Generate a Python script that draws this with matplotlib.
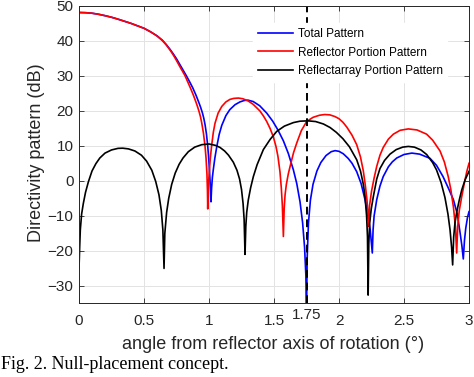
import matplotlib
matplotlib.use("Agg")
import matplotlib.pyplot as plt

# angle (deg) / directivity (dB)
total_x = [0.0, 0.05, 0.1, 0.15, 0.2, 0.25, 0.3, 0.35, 0.4, 0.45, 0.5, 0.55, 0.6, 0.641,
           0.67, 0.7, 0.725, 0.75, 0.775, 0.8, 0.825, 0.85, 0.875, 0.9, 0.92, 0.935,
           0.949, 0.96, 0.97, 0.98, 0.99, 0.998, 1.005, 1.01, 1.015,
           1.02, 1.026, 1.033, 1.045, 1.059, 1.078, 1.098, 1.13, 1.16, 1.2, 1.238, 1.27,
           1.3, 1.34, 1.39, 1.444, 1.49, 1.53, 1.572, 1.61, 1.649, 1.675, 1.7, 1.72,
           1.735, 1.745, 1.75,
           1.755, 1.765, 1.78, 1.8, 1.83, 1.86, 1.9, 1.94, 1.97, 2.0, 2.033, 2.07, 2.1,
           2.136, 2.17, 2.2, 2.22, 2.24, 2.256,
           2.262, 2.27, 2.29, 2.315, 2.34, 2.38, 2.41, 2.444, 2.5, 2.56, 2.62, 2.7, 2.75,
           2.8, 2.84, 2.88, 2.91, 2.93, 2.945, 2.956, 2.965, 2.975, 2.988, 3.0]
total_y = [48.0, 47.95, 47.8, 47.5, 47.1, 46.65, 46.1, 45.5, 44.9, 44.2, 43.5, 42.5, 41.35, 40.1,
           38.9, 37.5, 36.2, 34.8, 33.2, 31.6, 30.0, 28.3, 26.5, 24.4, 22.5, 21.0,
           19.4, 17.8, 15.9, 13.4, 10.0, 6.2, 2.0, -1.5, -6.0,
           -2.0, 1.0, 3.2, 6.5, 9.6, 13.2, 15.8, 18.6, 20.3, 21.7, 22.5, 22.9,
           23.0, 22.6, 21.4, 19.3, 17.0, 14.5, 11.4, 7.8, 3.1, -0.8, -6.0, -12.0,
           -19.0, -27.0, -38.0,
           -22.0, -12.0, -5.5, -1.0, 2.8, 5.2, 7.2, 8.3, 8.6, 8.4, 7.7, 6.4, 5.0,
           2.6, -0.8, -5.4, -9.5, -14.0, -20.6,
           -14.0, -10.0, -5.4, -1.5, 1.2, 4.0, 5.4, 6.5, 7.5, 7.9, 7.6, 6.4, 4.4,
           1.2, -2.0, -5.4, -9.5, -14.5, -18.5, -22.3, -17.0, -13.5, -10.5, -8.8]

reflector_x = [0.0, 0.05, 0.1, 0.15, 0.2, 0.25, 0.3, 0.35, 0.4, 0.45, 0.5, 0.55, 0.6, 0.641,
               0.67, 0.7, 0.725, 0.75, 0.775, 0.8, 0.815, 0.84, 0.86, 0.88, 0.9, 0.912,
               0.923, 0.934, 0.944, 0.957, 0.969, 0.977, 0.984, 0.988, 0.99,
               0.993, 1.0, 1.01, 1.02, 1.033, 1.046, 1.07, 1.098, 1.13, 1.16, 1.19, 1.226,
               1.26, 1.3, 1.34, 1.392, 1.42, 1.444, 1.47, 1.495, 1.515, 1.53, 1.546, 1.556,
               1.564, 1.572,
               1.578, 1.585, 1.595, 1.61, 1.623, 1.65, 1.675, 1.71, 1.751, 1.8, 1.85, 1.89,
               1.93, 1.97, 2.0, 2.03, 2.06, 2.1, 2.136, 2.165, 2.187, 2.203, 2.215, 2.222,
               2.228,
               2.235, 2.25, 2.27, 2.29, 2.315, 2.34, 2.38, 2.418, 2.47, 2.533, 2.6, 2.674,
               2.72, 2.777, 2.81, 2.84, 2.86, 2.88, 2.895, 2.905,
               2.913, 2.925, 2.944, 2.965, 2.982, 3.0]
reflector_y = [48.0, 47.95, 47.8, 47.5, 47.1, 46.65, 46.1, 45.5, 44.9, 44.2, 43.5, 42.5, 41.3, 40.0,
               38.8, 37.3, 35.9, 34.3, 32.6, 31.0, 30.0, 27.9, 26.2, 24.4, 22.4, 21.1,
               19.8, 18.3, 16.5, 13.6, 10.0, 6.5, 2.0, -3.0, -8.0,
               -3.0, 1.5, 6.5, 10.0, 13.8, 16.4, 19.3, 21.2, 22.5, 23.2, 23.5, 23.6,
               23.4, 22.8, 21.8, 19.9, 18.4, 16.9, 14.9, 12.5, 9.8, 7.0, 2.5, -2.0,
               -7.0, -15.9,
               -8.0, -4.0, -1.0, 2.0, 4.0, 8.0, 10.8, 14.3, 16.9, 18.1, 18.7, 18.9,
               18.8, 18.3, 17.7, 16.7, 15.3, 13.0, 10.3, 6.8, 2.8, -1.5, -5.5, -9.0,
               -13.0,
               -7.0, -3.0, 0.8, 4.1, 7.3, 9.5, 11.9, 13.3, 14.4, 14.8, 14.5, 13.3,
               11.6, 8.5, 5.4, 1.2, -2.5, -7.5, -13.0, -20.6,
               -13.0, -8.5, -4.5, -0.5, 2.5, 5.0]

reflectarray_x = [0.0, 0.005, 0.01, 0.02, 0.033, 0.05, 0.072, 0.1, 0.13, 0.16, 0.2, 0.25,
                  0.3, 0.336, 0.38, 0.43, 0.48, 0.52, 0.56, 0.59, 0.615, 0.633, 0.645, 0.654,
                  0.66, 0.674, 0.69, 0.713, 0.74, 0.77, 0.8, 0.841, 0.89, 0.944, 1.0, 1.05,
                  1.085, 1.12, 1.15, 1.187, 1.215, 1.235, 1.25, 1.262, 1.27, 1.277,
                  1.283, 1.29, 1.302, 1.32, 1.341, 1.37, 1.418, 1.47, 1.521, 1.58, 1.649,
                  1.7, 1.76, 1.82, 1.88, 1.931, 1.98, 2.03, 2.08, 2.136, 2.165, 2.187, 2.2,
                  2.212, 2.219, 2.224,
                  2.229, 2.236, 2.248, 2.264, 2.29, 2.315, 2.35, 2.392, 2.44, 2.49, 2.533,
                  2.58, 2.63, 2.674, 2.72, 2.75, 2.785, 2.815, 2.838, 2.854, 2.866, 2.874,
                  2.882, 2.892, 2.905, 2.925, 2.944, 2.97, 3.0]
reflectarray_y = [-25.0, -19.0, -14.0, -9.5, -6.5, -3.3, -0.3, 2.8, 4.9, 6.5, 7.9, 8.8,
                  9.25, 9.3, 9.1, 8.5, 7.3, 5.6, 3.0, -0.2, -4.0, -8.5, -14.0, -25.0,
                  -15.0, -9.0, -5.0, -1.0, 2.2, 4.7, 6.5, 8.3, 9.6, 10.3, 10.5, 10.1,
                  9.5, 8.5, 7.3, 5.3, 3.0, 0.5, -2.5, -6.5, -11.0, -21.0,
                  -13.0, -9.0, -5.5, -2.0, 1.2, 4.6, 8.9, 11.8, 14.1, 15.6, 16.6,
                  17.0, 17.1, 16.9, 16.2, 15.2, 13.8, 12.0, 9.7, 6.0, 2.8, -1.0, -4.5,
                  -10.0, -16.0, -32.6,
                  -18.0, -12.0, -8.0, -4.5, 0.5, 3.5, 5.8, 7.6, 8.9, 9.6, 9.8,
                  9.6, 8.8, 7.5, 5.2, 3.1, -0.5, -4.8, -9.5, -14.0, -19.0, -24.0,
                  -16.0, -12.0, -9.0, -5.5, -2.6, 0.3, 2.7]

x_ticks = [0, 0.5, 1, 1.5, 2, 2.5, 3]
x_tick_labels = ["0", "0.5", "1", "1.5", "2", "2.5", "3"]
y_ticks = [-30, -20, -10, 0, 10, 20, 30, 40, 50]
null_angle = 1.75

plt.rcParams["font.family"] = ["Liberation Sans", "DejaVu Sans"]

fig = plt.figure(figsize=(4.74, 3.77), dpi=100)
ax = fig.add_axes([0.1667, 0.195, 0.8228, 0.7904])

ax.plot(total_x, total_y, color="#0000ff", lw=1.2, label="Total Pattern")
ax.plot(reflector_x, reflector_y, color="#ff0000", lw=1.2, label="Reflector Portion Pattern")
ax.plot(reflectarray_x, reflectarray_y, color="black", lw=1.2,
        label="Reflectarray Portion Pattern")
ax.axvline(null_angle, color="black", lw=1.4, ls=(0, (4, 2.5)))

ax.set_xlim(0, 3)
ax.set_ylim(-35, 50)
ax.set_xticks(x_ticks)
ax.set_xticklabels(x_tick_labels)
ax.set_yticks(y_ticks)
ax.grid(True, color="#e3e3e3", lw=0.7)
ax.set_axisbelow(True)
ax.tick_params(direction="in", length=3.5, width=0.6, colors="#262626",
               labelsize=11, top=True, right=True)
ax.tick_params(axis="x", pad=7.5)
ax.tick_params(axis="y", pad=4)
for s in ax.spines.values():
    s.set_color("#262626")
    s.set_linewidth(0.7)

ax.text(null_angle, -0.039, "1.75", transform=ax.get_xaxis_transform(),
        ha="center", va="center", fontsize=11, color="#262626")

ax.set_xlabel("angle from reflector axis of rotation (\u00b0)", fontsize=13, color="#262626")
ax.set_ylabel("Directivity pattern (dB)", fontsize=13, color="#262626")
ax.xaxis.set_label_coords(0.4987, -0.108)
ax.yaxis.set_label_coords(-0.087, 0.505)

leg = ax.legend(loc="upper left", bbox_to_anchor=(0.447, 0.94), fontsize=8.5,
                frameon=True, fancybox=False, edgecolor="white", facecolor="white",
                framealpha=1, handlelength=3.0, handletextpad=0.35,
                labelspacing=0.55, borderpad=0.4, borderaxespad=0)

fig.text(0.002, 0.032, "Fig. 2. Null-placement concept.", fontsize=13,
         family=["Liberation Serif", "DejaVu Serif"], ha="left", va="center")

fig.savefig("out.png", dpi=100)
